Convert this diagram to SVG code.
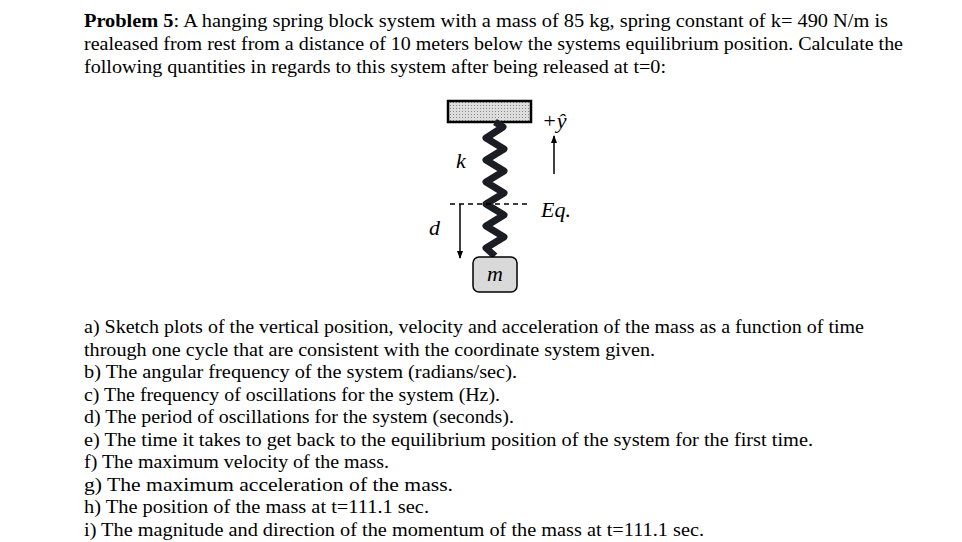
<svg xmlns="http://www.w3.org/2000/svg" width="962" height="542" viewBox="0 0 962 542">
<defs>
<style>
.t{font-family:"Liberation Serif",serif;font-size:18.5px;fill:#000}
.i{font-family:"Liberation Serif",serif;font-style:italic;font-size:22px;fill:#000}
</style>
<pattern id="p" width="3" height="3" patternUnits="userSpaceOnUse"><rect width="3" height="3" fill="#ddd"/><rect width="1" height="1" fill="#888"/></pattern>
<marker id="a" markerWidth="8" markerHeight="8" refX="7" refY="4" orient="auto" markerUnits="userSpaceOnUse"><path d="M0,1 L8,4 L0,7 Z" fill="#000"/></marker>
</defs>
<rect width="962" height="542" fill="#fff"/>
<text class="t" x="84" y="27" textLength="804" lengthAdjust="spacingAndGlyphs"><tspan font-weight="bold">Problem 5</tspan>: A hanging spring block system with a mass of 85 kg, spring constant of k= 490 N/m is</text>
<text class="t" x="84" y="50" textLength="819" lengthAdjust="spacingAndGlyphs">realeased from rest from a distance of 10 meters below the systems equilibrium position. Calculate the</text>
<text class="t" x="84" y="73" textLength="582" lengthAdjust="spacingAndGlyphs">following quantities in regards to this system after being released at t=0:</text>
<g id="ceiling"><rect x="448" y="101" width="83" height="21" fill="url(#p)" stroke="#000" stroke-width="2.5"/></g>
<g id="spring"><polyline points="495,122 503,127 486,138 504,149 486,160 504,171 486,182 504,193 486,204 504,215 486,226 504,237 486,248 495,256" fill="none" stroke="#1a1d24" stroke-width="7" stroke-linejoin="round"/></g>
<g id="mass"><rect x="473" y="257" width="44" height="35" rx="6" fill="#d9d9d9" stroke="#000" stroke-width="1.5"/><text class="i" x="495" y="281" text-anchor="middle">m</text></g>
<g id="connectors">
<line x1="450" y1="204" x2="531" y2="204" stroke="#000" stroke-width="1.5" stroke-dasharray="5,4"/>
<line x1="460" y1="204" x2="460" y2="258" stroke="#000" stroke-width="1.5" marker-end="url(#a)"/>
<line x1="554" y1="174" x2="554" y2="136" stroke="#000" stroke-width="1.5" marker-end="url(#a)"/>
</g>
<text class="i" x="542" y="128">+ŷ</text>
<text class="i" x="456" y="168">k</text>
<text class="i" x="541" y="217">Eq.</text>
<text class="i" x="429" y="235">d</text>
<text class="t" x="84" y="333" textLength="780" lengthAdjust="spacingAndGlyphs">a) Sketch plots of the vertical position, velocity and acceleration of the mass as a function of time</text>
<text class="t" x="84" y="356" textLength="571" lengthAdjust="spacingAndGlyphs">through one cycle that are consistent with the coordinate system given.</text>
<text class="t" x="84" y="378" textLength="433" lengthAdjust="spacingAndGlyphs">b) The angular frequency of the system (radians/sec).</text>
<text class="t" x="84" y="401" textLength="416" lengthAdjust="spacingAndGlyphs">c) The frequency of oscillations for the system (Hz).</text>
<text class="t" x="84" y="423" textLength="430" lengthAdjust="spacingAndGlyphs">d) The period of oscillations for the system (seconds).</text>
<text class="t" x="84" y="446" textLength="729" lengthAdjust="spacingAndGlyphs">e) The time it takes to get back to the equilibrium position of the system for the first time.</text>
<text class="t" x="84" y="468" textLength="305" lengthAdjust="spacingAndGlyphs">f) The maximum velocity of the mass.</text>
<text class="t" x="84" y="491" textLength="369" lengthAdjust="spacingAndGlyphs">g) The maximum acceleration of the mass.</text>
<text class="t" x="84" y="513" textLength="345" lengthAdjust="spacingAndGlyphs">h) The position of the mass at t=111.1 sec.</text>
<text class="t" x="84" y="536" textLength="620" lengthAdjust="spacingAndGlyphs">i) The magnitude and direction of the momentum of the mass at t=111.1 sec.</text>
</svg>
